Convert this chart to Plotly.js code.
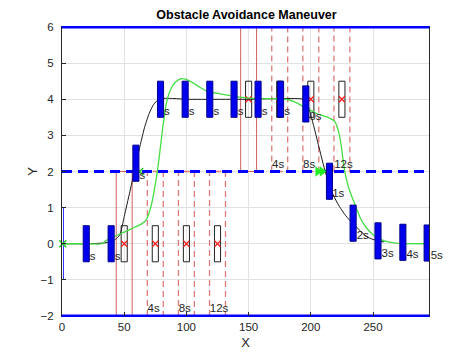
<!DOCTYPE html>
<html>
<head>
<meta charset="utf-8">
<script src="https://cdn.plot.ly/plotly-3.0.1.min.js"></script>
<style>html,body{margin:0;padding:0;background:#fff;}#chart{width:474px;height:355px;}</style>
</head>
<body>
<div id="chart"></div>
<script>
// ---------- data ----------
const vehLabels = ['1s','2s','3s','4s','5s','6s','7s','8s','9s','10s','11s','12s','13s','14s','15s'];
const vehX = [19.5, 39.5, 59.4, 79.2, 99, 118.8, 138.3, 157.6, 175.7, 196, 215, 234, 254, 274, 293.5];
const vehY = [0, 0, 2.23, 4.0, 4.0, 4.0, 4.0, 4.0, 4.0, 3.87, 1.73, 0.57, 0.08, 0.04, 0.02];

const obsX = [50, 75, 100, 125, 150, 175, 200, 225];
const obsY = [0, 0, 0, 0, 4, 4, 4, 4];

const zoneX = [50, 75, 100, 125, 150, 175, 200, 225];
const zoneLo = [-2, -2, -2, -2, 2, 2, 2, 2];
const zoneHi = [2, 2, 2, 2, 6, 6, 6, 6];
const zoneLabels = ['', '4s', '8s', '12s', '', '4s', '8s', '12s'];

const refX = [0, 20, 33, 40, 43, 46.5, 50, 54.6, 59.4, 63, 66.6, 70, 73, 76, 80, 90, 100, 150, 194, 197, 200.3, 206, 212, 218, 223, 228, 234, 240, 244.5, 250, 255, 259];
const refY = [0, 0, 0.02, 0.06, 0.12, 0.25, 0.75, 1.45, 2.2, 2.75, 3.25, 3.6, 3.82, 3.95, 4.02, 4.02, 4.0, 4.0, 4.0, 3.9, 3.53, 2.75, 1.95, 1.35, 1.03, 0.78, 0.55, 0.35, 0.2, 0.12, 0.07, 0.05];

const trajX = [0, 20, 32, 36, 42, 50, 58, 64, 67.5, 70, 72, 74, 76, 78.5, 81.3, 84, 87, 91, 96, 100, 105, 110, 116, 122, 127, 138, 148, 160, 180, 187, 194, 204, 215, 219, 221, 223, 224.5, 227, 230, 233, 236.5, 240, 244.5, 250, 256, 262, 270, 294];
const trajY = [0, 0, 0, 0.1, 0.2, 0.32, 0.45, 0.55, 0.65, 0.85, 1.1, 1.45, 1.85, 2.5, 3.3, 3.9, 4.25, 4.47, 4.57, 4.55, 4.46, 4.35, 4.23, 4.18, 4.15, 4.08, 4.04, 4.02, 4.0, 3.93, 3.8, 3.62, 3.48, 3.4, 3.25, 3.0, 2.7, 2.05, 1.6, 1.3, 1.0, 0.7, 0.45, 0.25, 0.12, 0.05, 0.01, 0];

const roadX = [0, 295];
const roadTop = [6, 6];
const roadBottom = [-2, -2];
const laneMid = [2, 2];
const startLineX = [1.2, 1.2];
const startLineY = [-1, 1];
const greenXMarkX = [0.6, 62.5];
const greenXMarkY = [0, 2];
const greenTriX = [205.5, 209];
const greenTriY = [2, 2];
const goalX = [294];
const goalY = [0];

// ---------- geometry helpers ----------
const L = 4.9, W = 1.0, margin = 6.4;
function rectPath(cx, cy, hw, hh) {
  const xs = [], ys = [];
  for (let i = 0; i < cx.length; i++) {
    xs.push(cx[i]-hw, cx[i]+hw, cx[i]+hw, cx[i]-hw, cx[i]-hw, null);
    ys.push(cy[i]-hh, cy[i]-hh, cy[i]+hh, cy[i]+hh, cy[i]-hh, null);
  }
  return {xs, ys};
}
function zonePath(idx) {
  const xs = [], ys = [];
  idx.forEach(i => {
    const a = zoneX[i]-margin, b = zoneX[i]+margin;
    xs.push(a, a, b, b, a, null);
    ys.push(zoneLo[i], zoneHi[i], zoneHi[i], zoneLo[i], zoneLo[i], null);
  });
  return {xs, ys};
}
const solidIdx = [], dashIdx = [];
zoneLabels.forEach((l, i) => (l === '' ? solidIdx : dashIdx).push(i));
const zs = zonePath(solidIdx), zd = zonePath(dashIdx);
const obs = rectPath(obsX, obsY, L/2, W/2);
const veh = rectPath(vehX, vehY, L/2, W/2);

const font = 'Liberation Sans, Arial, Helvetica, sans-serif';
const traces = [
  {x: zs.xs, y: zs.ys, mode: 'lines', line: {color: 'rgba(200,70,70,0.85)', width: 1}},
  {x: zd.xs, y: zd.ys, mode: 'lines', line: {color: 'rgba(215,100,100,0.85)', width: 1.3, dash: '6px,4px'}},
  {x: roadX, y: roadTop, mode: 'lines', line: {color: '#0000ff', width: 3}},
  {x: roadX, y: roadBottom, mode: 'lines', line: {color: '#0000ff', width: 3}},
  {x: roadX, y: laneMid, mode: 'lines', line: {color: '#0000ff', width: 3, dash: '10px,6px'}},
  {x: startLineX, y: startLineY, mode: 'lines', line: {color: '#3333ff', width: 1}},
  {x: obs.xs, y: obs.ys, mode: 'lines', line: {color: '#222222', width: 1}},
  {x: obsX, y: obsY, mode: 'markers', marker: {symbol: 'x-thin-open', size: 6, color: '#ff1a1a', line: {color: '#ff1a1a', width: 1.2}}},
  {x: goalX, y: goalY, mode: 'markers', marker: {symbol: 'x-thin-open', size: 6, color: '#ff4080', line: {color: '#ff4080', width: 1}}},
  {x: refX, y: refY, mode: 'lines', line: {color: '#1a1a1a', width: 1, shape: 'spline', smoothing: 0.6}},
  {x: trajX, y: trajY, mode: 'lines', line: {color: '#44dd44', width: 1.3, shape: 'spline', smoothing: 0.6}},
  {x: greenXMarkX, y: greenXMarkY, mode: 'markers', cliponaxis: false, marker: {symbol: 'x-thin-open', size: 7, color: '#22cc22', line: {color: '#22cc22', width: 1.5}}},
  {x: greenTriX, y: greenTriY, mode: 'markers', marker: {symbol: 'triangle-right', size: 9, color: '#22ee22'}},
  {x: vehX.map(v => v - L/2 + 0.2), y: vehY.map(v => v - 0.36), mode: 'text', text: vehLabels, cliponaxis: false,
   textposition: 'middle right', textfont: {family: font, size: 11.5, color: '#262626'}},
  {x: zoneX.map(v => v - margin + 0.2), y: zoneLo.map(v => v + 0.19), mode: 'text', text: zoneLabels,
   textposition: 'middle right', textfont: {family: font, size: 11.5, color: '#262626'}},
  {x: veh.xs, y: veh.ys, mode: 'lines', fill: 'toself', fillcolor: '#0000ee', line: {color: '#00008b', width: 1}}
];

const layout = {
  width: 474, height: 355,
  margin: {l: 62, r: 45, t: 27, b: 39},
  paper_bgcolor: '#ffffff', plot_bgcolor: '#ffffff',
  showlegend: false,
  title: {text: '<b>Obstacle Avoidance Maneuver</b>', x: 0.52, xanchor: 'center', y: 0.972, yanchor: 'top',
          font: {family: font, size: 12.5, color: '#000'}},
  xaxis: {range: [0, 295], tickvals: [0, 50, 100, 150, 200, 250], showgrid: true, gridcolor: '#e2e2e2',
          zeroline: false, showline: true, linecolor: '#0000ff', linewidth: 1, mirror: true,
          ticks: 'inside', ticklen: 4, tickcolor: '#262626',
          tickfont: {family: font, size: 11.5, color: '#262626'},
          title: {text: 'X', font: {family: font, size: 13, color: '#262626'}, standoff: 6}},
  yaxis: {range: [-2, 6], tickvals: [-2, -1, 0, 1, 2, 3, 4, 5, 6], showgrid: true, gridcolor: '#e2e2e2',
          zeroline: false, showline: true, linecolor: '#262626', linewidth: 1, mirror: true,
          ticks: 'inside', ticklen: 4, tickcolor: '#262626', ticklabelstandoff: 5,
          tickfont: {family: font, size: 11.5, color: '#262626'},
          title: {text: 'Y', font: {family: font, size: 13, color: '#262626'}, standoff: 0}}
};
traces.forEach(t => { t.showlegend = false; t.hoverinfo = 'skip'; });
Plotly.newPlot('chart', traces, layout, {staticPlot: true, displayModeBar: false});
</script>
</body>
</html>
